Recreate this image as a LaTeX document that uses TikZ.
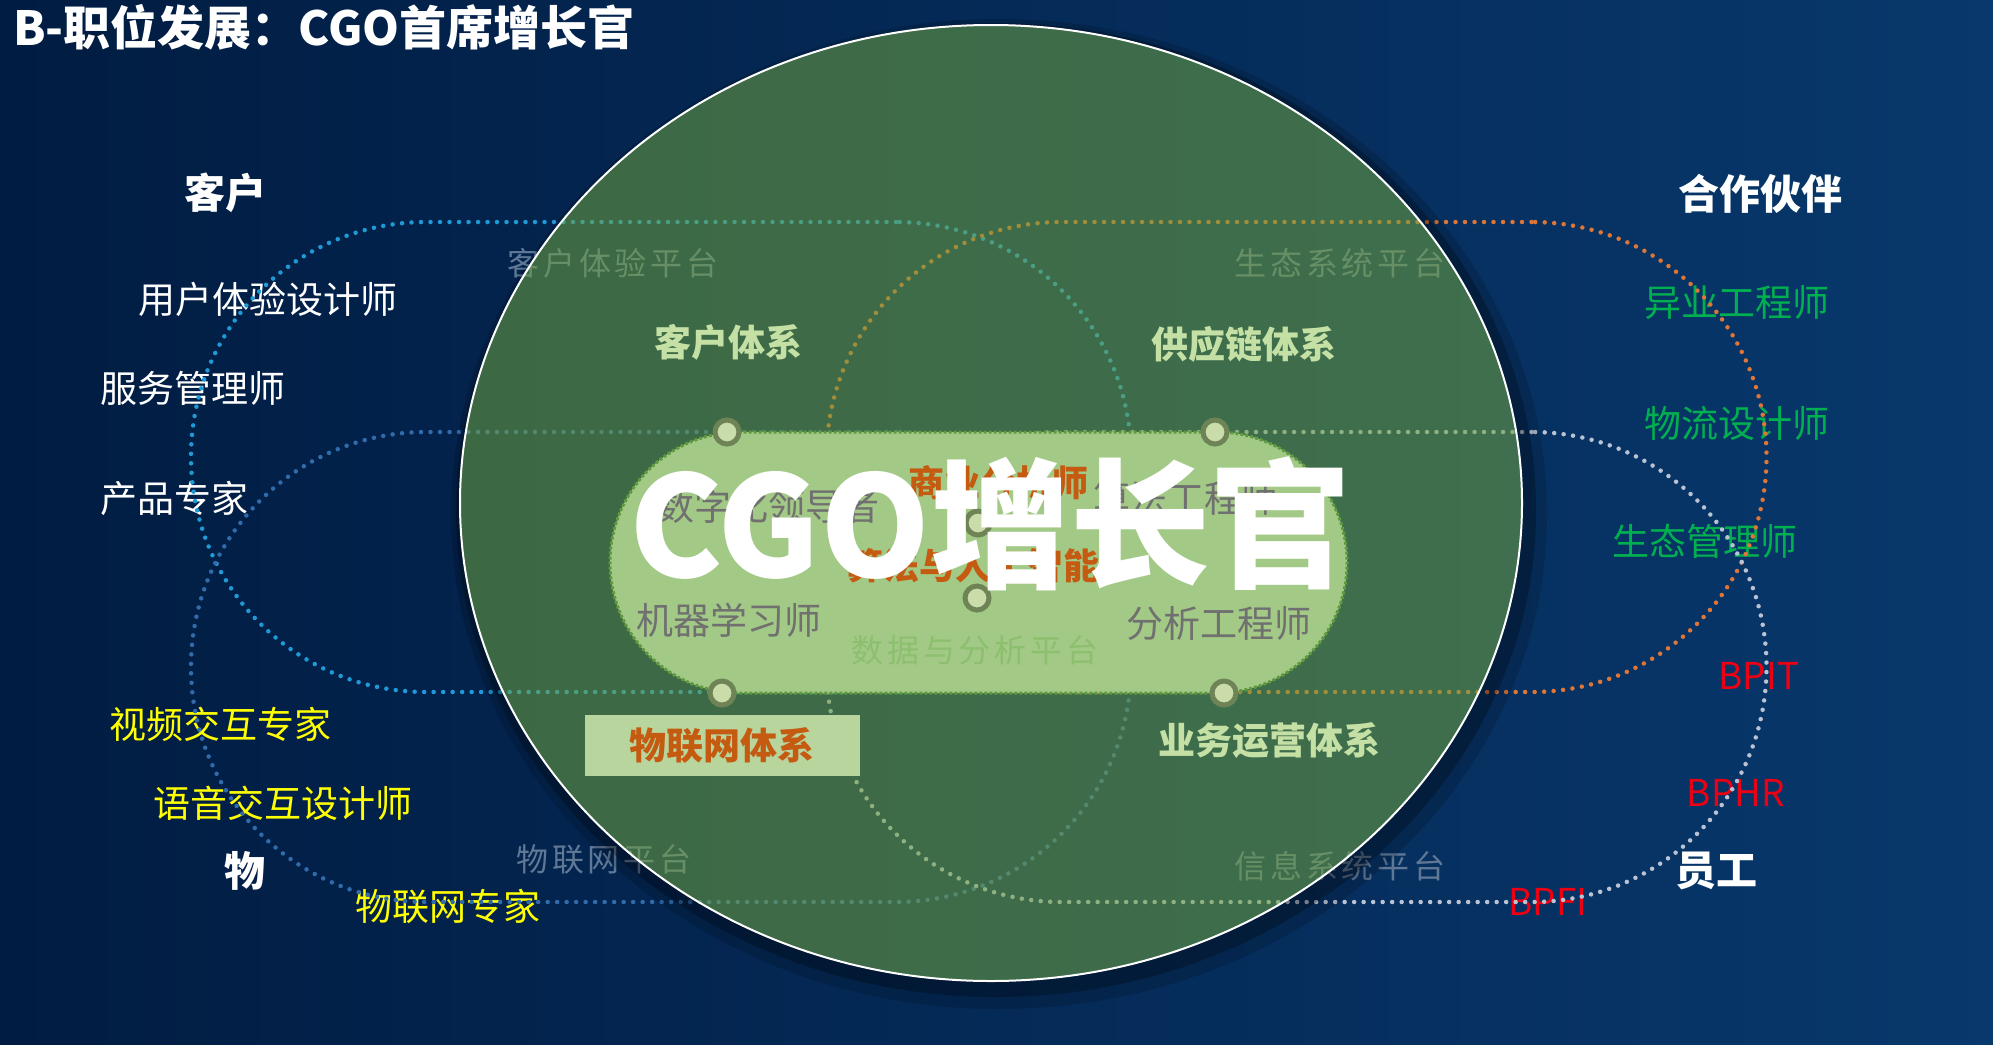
\documentclass[tikz,border=0pt]{standalone}
\usepackage{fontspec}
\setmainfont{Noto Sans CJK SC}
\newfontfamily\spacedcjk[LetterSpace=12]{Noto Sans CJK SC}
\usetikzlibrary{shapes.geometric}

\definecolor{bgleft}{RGB}{1,28,66}
\definecolor{bgright}{RGB}{8,56,108}
\definecolor{circfill}{RGB}{110,162,62}
\definecolor{pillfill}{RGB}{163,201,134}
\definecolor{pillline}{RGB}{95,154,62}
\definecolor{ringfill}{RGB}{201,220,169}
\definecolor{ringline}{RGB}{110,132,86}
\definecolor{boxfill}{RGB}{183,213,156}
\definecolor{kehublue}{RGB}{30,155,215}
\definecolor{huobanorange}{RGB}{222,118,56}
\definecolor{wublue}{RGB}{48,108,172}
\definecolor{yggray}{RGB}{185,195,212}
\definecolor{cyellow}{RGB}{255,255,0}
\definecolor{cgreen}{RGB}{0,176,80}
\definecolor{cred}{RGB}{235,0,20}
\definecolor{corange}{RGB}{197,90,17}
\definecolor{systemgreen}{RGB}{197,224,165}
\definecolor{pillgray}{RGB}{112,112,112}
\definecolor{platgray}{RGB}{95,120,150}
\definecolor{platgreen}{RGB}{140,191,110}

\tikzset{
  dotline/.style={line width=4.5pt, line cap=round, dash pattern=on 0pt off 9.5pt},
  stadium/.style={rectangle, minimum width=940pt, minimum height=470pt, rounded corners=235pt, inner sep=0pt, dotline},
  ring/.style={circle, draw=ringline, fill=ringfill, line width=5pt, minimum size=24pt, inner sep=0pt},
  txt/.style={inner sep=0pt, font=\fontsize{37}{40}\selectfont},
  head/.style={inner sep=0pt, text=white, font=\fontsize{41}{44}\selectfont\bfseries},
  system/.style={inner sep=0pt, text=systemgreen, font=\fontsize{37}{40}\selectfont\bfseries},
  platform/.style={inner sep=0pt, text=platgray, font=\spacedcjk\fontsize{32}{36}\selectfont},
  pilltext/.style={inner sep=0pt, text=pillgray, font=\fontsize{37}{40}\selectfont},
  hiddentext/.style={inner sep=0pt, text=corange, font=\fontsize{36}{40}\selectfont\bfseries}
}

\begin{document}
\begin{tikzpicture}[x=1pt, y=-1pt]
    \useasboundingbox (0,0) rectangle (1993,1044);
    \shade[left color=bgleft, right color=bgright] (0,0) rectangle (1993,1044);

    \node[anchor=west, inner sep=0pt, text=white, font=\fontsize{47}{50}\selectfont\bfseries] (title) at (13,27) {B-职位发展：CGO首席增长官};

    \node[head] (kehulabel) at (225,193) {客户};
    \node[head] (huobanlabel) at (1760,194) {合作伙伴};
    \node[head] (wulabel) at (245,871) {物};
    \node[head] (yglabel) at (1716,871) {员工};

    \node[txt, text=white] (uxd) at (268,299) {用户体验设计师};
    \node[txt, text=white] (fwgl) at (193,388) {服务管理师};
    \node[txt, text=white] (cpzj) at (174,498) {产品专家};
    \node[txt, text=cyellow] (spjh) at (220,724) {视频交互专家};
    \node[txt, text=cyellow] (yyjh) at (283,803) {语音交互设计师};
    \node[txt, text=cyellow] (wlwzj) at (448,906) {物联网专家};
    \node[txt, text=cgreen] (yygc) at (1737,303) {异业工程师};
    \node[txt, text=cgreen] (wlsj) at (1737,423) {物流设计师};
    \node[txt, text=cgreen] (stgl) at (1705,541) {生态管理师};
    \node[txt, text=cred] (bpit) at (1759,676) {BPIT};
    \node[txt, text=cred] (bphr) at (1736,793) {BPHR};
    \node[txt, text=cred] (bpfi) at (1548,902) {BPFI};

    \node[stadium, draw=kehublue] (kehu) at (661,457) {};
    \node[stadium, draw=huobanorange] (huoban) at (1296.5,457) {};
    \node[stadium, draw=wublue] (wu) at (661,667) {};
    \node[stadium, draw=yggray] (yuangong) at (1296.5,667) {};

    \node[platform] (khpt) at (613,263) {客户体验平台};
    \node[platform] (stpt) at (1340,263) {生态系统平台};
    \node[platform] (wlwpt) at (604,859) {物联网平台};
    \node[platform] (xxpt) at (1340,866) {信息系统平台};

    \fill[black, opacity=0.25, even odd rule] (996,510) ellipse [x radius=540, y radius=487] (991,503) ellipse [x radius=531, y radius=478];
    \fill[black, opacity=0.15, even odd rule] (999,514) ellipse [x radius=548, y radius=495] (991,503) ellipse [x radius=531, y radius=478];
    \node[ellipse, minimum width=1062pt, minimum height=956pt, inner sep=0pt, fill=circfill, fill opacity=0.55, draw=white, line width=2pt] (bigcircle) at (991,503) {};

    \node[rectangle, minimum width=737pt, minimum height=261pt, rounded corners=130.5pt, inner sep=0pt, fill=pillfill, draw=pillline, line width=3pt, dash pattern=on 3pt off 2pt] (pill) at (978.5,562.5) {};

    \node[ring] (r1) at (727,432) {};
    \node[ring] (r2) at (1215,432) {};
    \node[ring] (r3) at (722,693) {};
    \node[ring] (r4) at (1224,693) {};
    \node[ring] (r5) at (978,523) {};
    \node[ring] (r6) at (977,598) {};

    \node[system] (khtx) at (728,342) {客户体系};
    \node[system] (gyltx) at (1244,344) {供应链体系};
    \node[system] (ywyytx) at (1269,741) {业务运营体系};
    \node[fill=boxfill, minimum width=275pt, minimum height=61pt, inner sep=0pt, text=corange, font=\fontsize{37}{40}\selectfont\bfseries] (wlwtx) at (722,745) {物联网体系};

    \node[pilltext] (szh) at (768,506) {数字化领导者};
    \node[pilltext] (sfgc) at (1186,498) {算法工程师};
    \node[pilltext] (jqxx) at (729,620) {机器学习师};
    \node[pilltext] (fxgc) at (1219,623) {分析工程师};
    \node[hiddentext] (syfx) at (998,483) {商业分析师};
    \node[hiddentext] (sfzn) at (973,566) {算法与人工智能};
    \node[platform, text=platgreen] (sjpt) at (975,650) {数据与分析平台};

    \node[inner sep=0pt, text=white, font=\fontsize{140}{140}\selectfont\bfseries] (cgo) at (990,524) {CGO增长官};
\end{tikzpicture}
\end{document}
